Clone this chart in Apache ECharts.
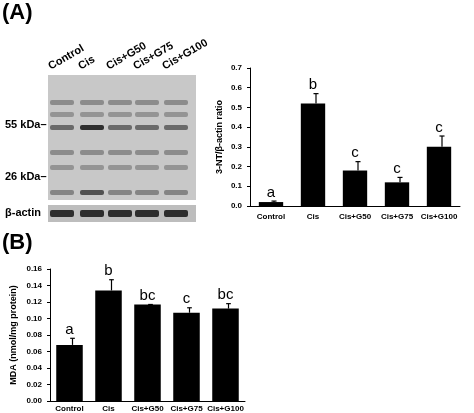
<!DOCTYPE html>
<html>
<head>
<meta charset="utf-8">
<script src="https://cdn.jsdelivr.net/npm/echarts@6/dist/echarts.min.js"></script>
<style>html,body{margin:0;padding:0;background:#fff}#chart{width:474px;height:413px}</style>
</head>
<body>
<div id="chart"></div>
<script>
// data
const groups = ['Control', 'Cis', 'Cis+G50', 'Cis+G75', 'Cis+G100'];
const ntRatio = [0.02, 0.52, 0.18, 0.12, 0.30];
const ntErr = [0.005, 0.05, 0.045, 0.025, 0.055];
const ntLetters = ['a', 'b', 'c', 'c', 'c'];
const mda = [0.068, 0.134, 0.117, 0.107, 0.112];
const mdaErr = [0.008, 0.013, 0.0, 0.006, 0.006];
const mdaLetters = ['a', 'b', 'bc', 'c', 'bc'];

const chart = echarts.init(document.getElementById('chart'));
const font = 'Liberation Sans, Arial, sans-serif';

// error bar + letter on top
function errSeries(idx, vals, errs, letters) {
    return {
        type: 'custom', xAxisIndex: idx, yAxisIndex: idx, z: 5,
        data: vals.map((v, i) => [i, v, errs[i]]),
        renderItem(params, api) {
            let i = api.value(0), v = api.value(1), e = api.value(2);
            let base = api.coord([i, v]);
            let top = api.coord([i, v + e]);
            let w = api.size([1, 0])[0] * 0.12;
            return {
                type: 'group', children: [
                    {type: 'line', shape: {x1: base[0] + 3, y1: base[1], x2: base[0] + 3, y2: top[1]}, style: {stroke: '#000', lineWidth: 1.2}},
                    {type: 'line', shape: {x1: base[0] + 3 - w / 2, y1: top[1], x2: base[0] + 3 + w / 2, y2: top[1]}, style: {stroke: '#000', lineWidth: 1.2}},
                    {type: 'text', x: base[0], y: top[1] - 1, style: {text: letters[i], font: '15px ' + font, fill: '#000', align: 'center', verticalAlign: 'bottom'}}
                ]
            };
        }
    };
}

// blot picture (decorative)
let blot = [
    {type: 'rect', shape: {x: 48, y: 75, width: 148, height: 125}, style: {fill: '#c8c8c8'}},
    {type: 'rect', shape: {x: 48, y: 205, width: 148, height: 17}, style: {fill: '#bdbdbd'}}
];
let laneX = [62, 92, 120, 147, 176];
laneX.forEach((x, i) => {
    [[100, 0.35], [112, 0.3], [125, i == 1 ? 0.9 : 0.55], [150, 0.35], [165, 0.3], [190, i == 1 ? 0.7 : 0.4]].forEach(b => {
        blot.push({type: 'rect', shape: {x: x - 12, y: b[0], width: 24, height: 5, r: 2}, style: {fill: 'rgba(30,30,30,' + b[1] + ')'}});
    });
    blot.push({type: 'rect', shape: {x: x - 12, y: 210, width: 24, height: 7, r: 2}, style: {fill: 'rgba(20,20,20,0.85)'}});
    blot.push({type: 'text', x: x - 10, y: 72, rotation: Math.PI / 6, style: {text: groups[i], font: 'bold 11px ' + font, fill: '#000', align: 'left', verticalAlign: 'bottom'}});
});
blot.push(
    {type: 'text', left: 2, top: 2, style: {text: '(A)', font: 'bold 22px ' + font, fill: '#000'}},
    {type: 'text', left: 2, top: 232, style: {text: '(B)', font: 'bold 22px ' + font, fill: '#000'}},
    {type: 'text', x: 5, y: 125, style: {text: '55 kDa–', font: 'bold 11px ' + font, fill: '#000', verticalAlign: 'middle'}},
    {type: 'text', x: 5, y: 177, style: {text: '26 kDa–', font: 'bold 11px ' + font, fill: '#000', verticalAlign: 'middle'}},
    {type: 'text', x: 5, y: 213, style: {text: 'β-actin', font: 'bold 11px ' + font, fill: '#000', verticalAlign: 'middle'}}
);

const axisCommon = {
    axisLine: {show: true, lineStyle: {color: '#000'}},
    axisTick: {show: true, inside: false, length: 3, lineStyle: {color: '#000'}},
    splitLine: {show: false}
};

chart.setOption({
    animation: false,
    graphic: blot,
    grid: [
        {left: 250, right: 14, top: 68, bottom: 207},
        {left: 50, right: 229, top: 269, bottom: 11}
    ],
    xAxis: [
        Object.assign({type: 'category', gridIndex: 0, data: groups, axisLabel: {fontSize: 8, fontWeight: 'bold', color: '#000', interval: 0, margin: 7, fontFamily: font}}, axisCommon, {axisTick: {show: false}}),
        Object.assign({type: 'category', gridIndex: 1, data: groups, axisLabel: {fontSize: 8, fontWeight: 'bold', color: '#000', interval: 0, margin: 4, fontFamily: font}}, axisCommon, {axisTick: {show: false}})
    ],
    yAxis: [
        Object.assign({type: 'value', gridIndex: 0, min: 0, max: 0.7, interval: 0.1, name: '3-NT/β-actin ratio', nameLocation: 'middle', nameGap: 26, nameTextStyle: {fontSize: 9, fontWeight: 'bold', fontFamily: font}, axisLabel: {fontSize: 8, fontWeight: 'bold', color: '#000', formatter: v => v.toFixed(1), fontFamily: font}}, axisCommon),
        Object.assign({type: 'value', gridIndex: 1, min: 0, max: 0.16, interval: 0.02, name: 'MDA (nmol/mg protein)', nameLocation: 'middle', nameGap: 32, nameTextStyle: {fontSize: 9, fontWeight: 'bold', fontFamily: font}, axisLabel: {fontSize: 8, fontWeight: 'bold', color: '#000', formatter: v => v.toFixed(2), fontFamily: font}}, axisCommon)
    ],
    series: [
        {type: 'bar', xAxisIndex: 0, yAxisIndex: 0, data: ntRatio, barWidth: '58%', itemStyle: {color: '#000'}},
        errSeries(0, ntRatio, ntErr, ntLetters),
        {type: 'bar', xAxisIndex: 1, yAxisIndex: 1, data: mda, barWidth: '68%', itemStyle: {color: '#000'}},
        errSeries(1, mda, mdaErr, mdaLetters)
    ]
});
</script>
</body>
</html>
